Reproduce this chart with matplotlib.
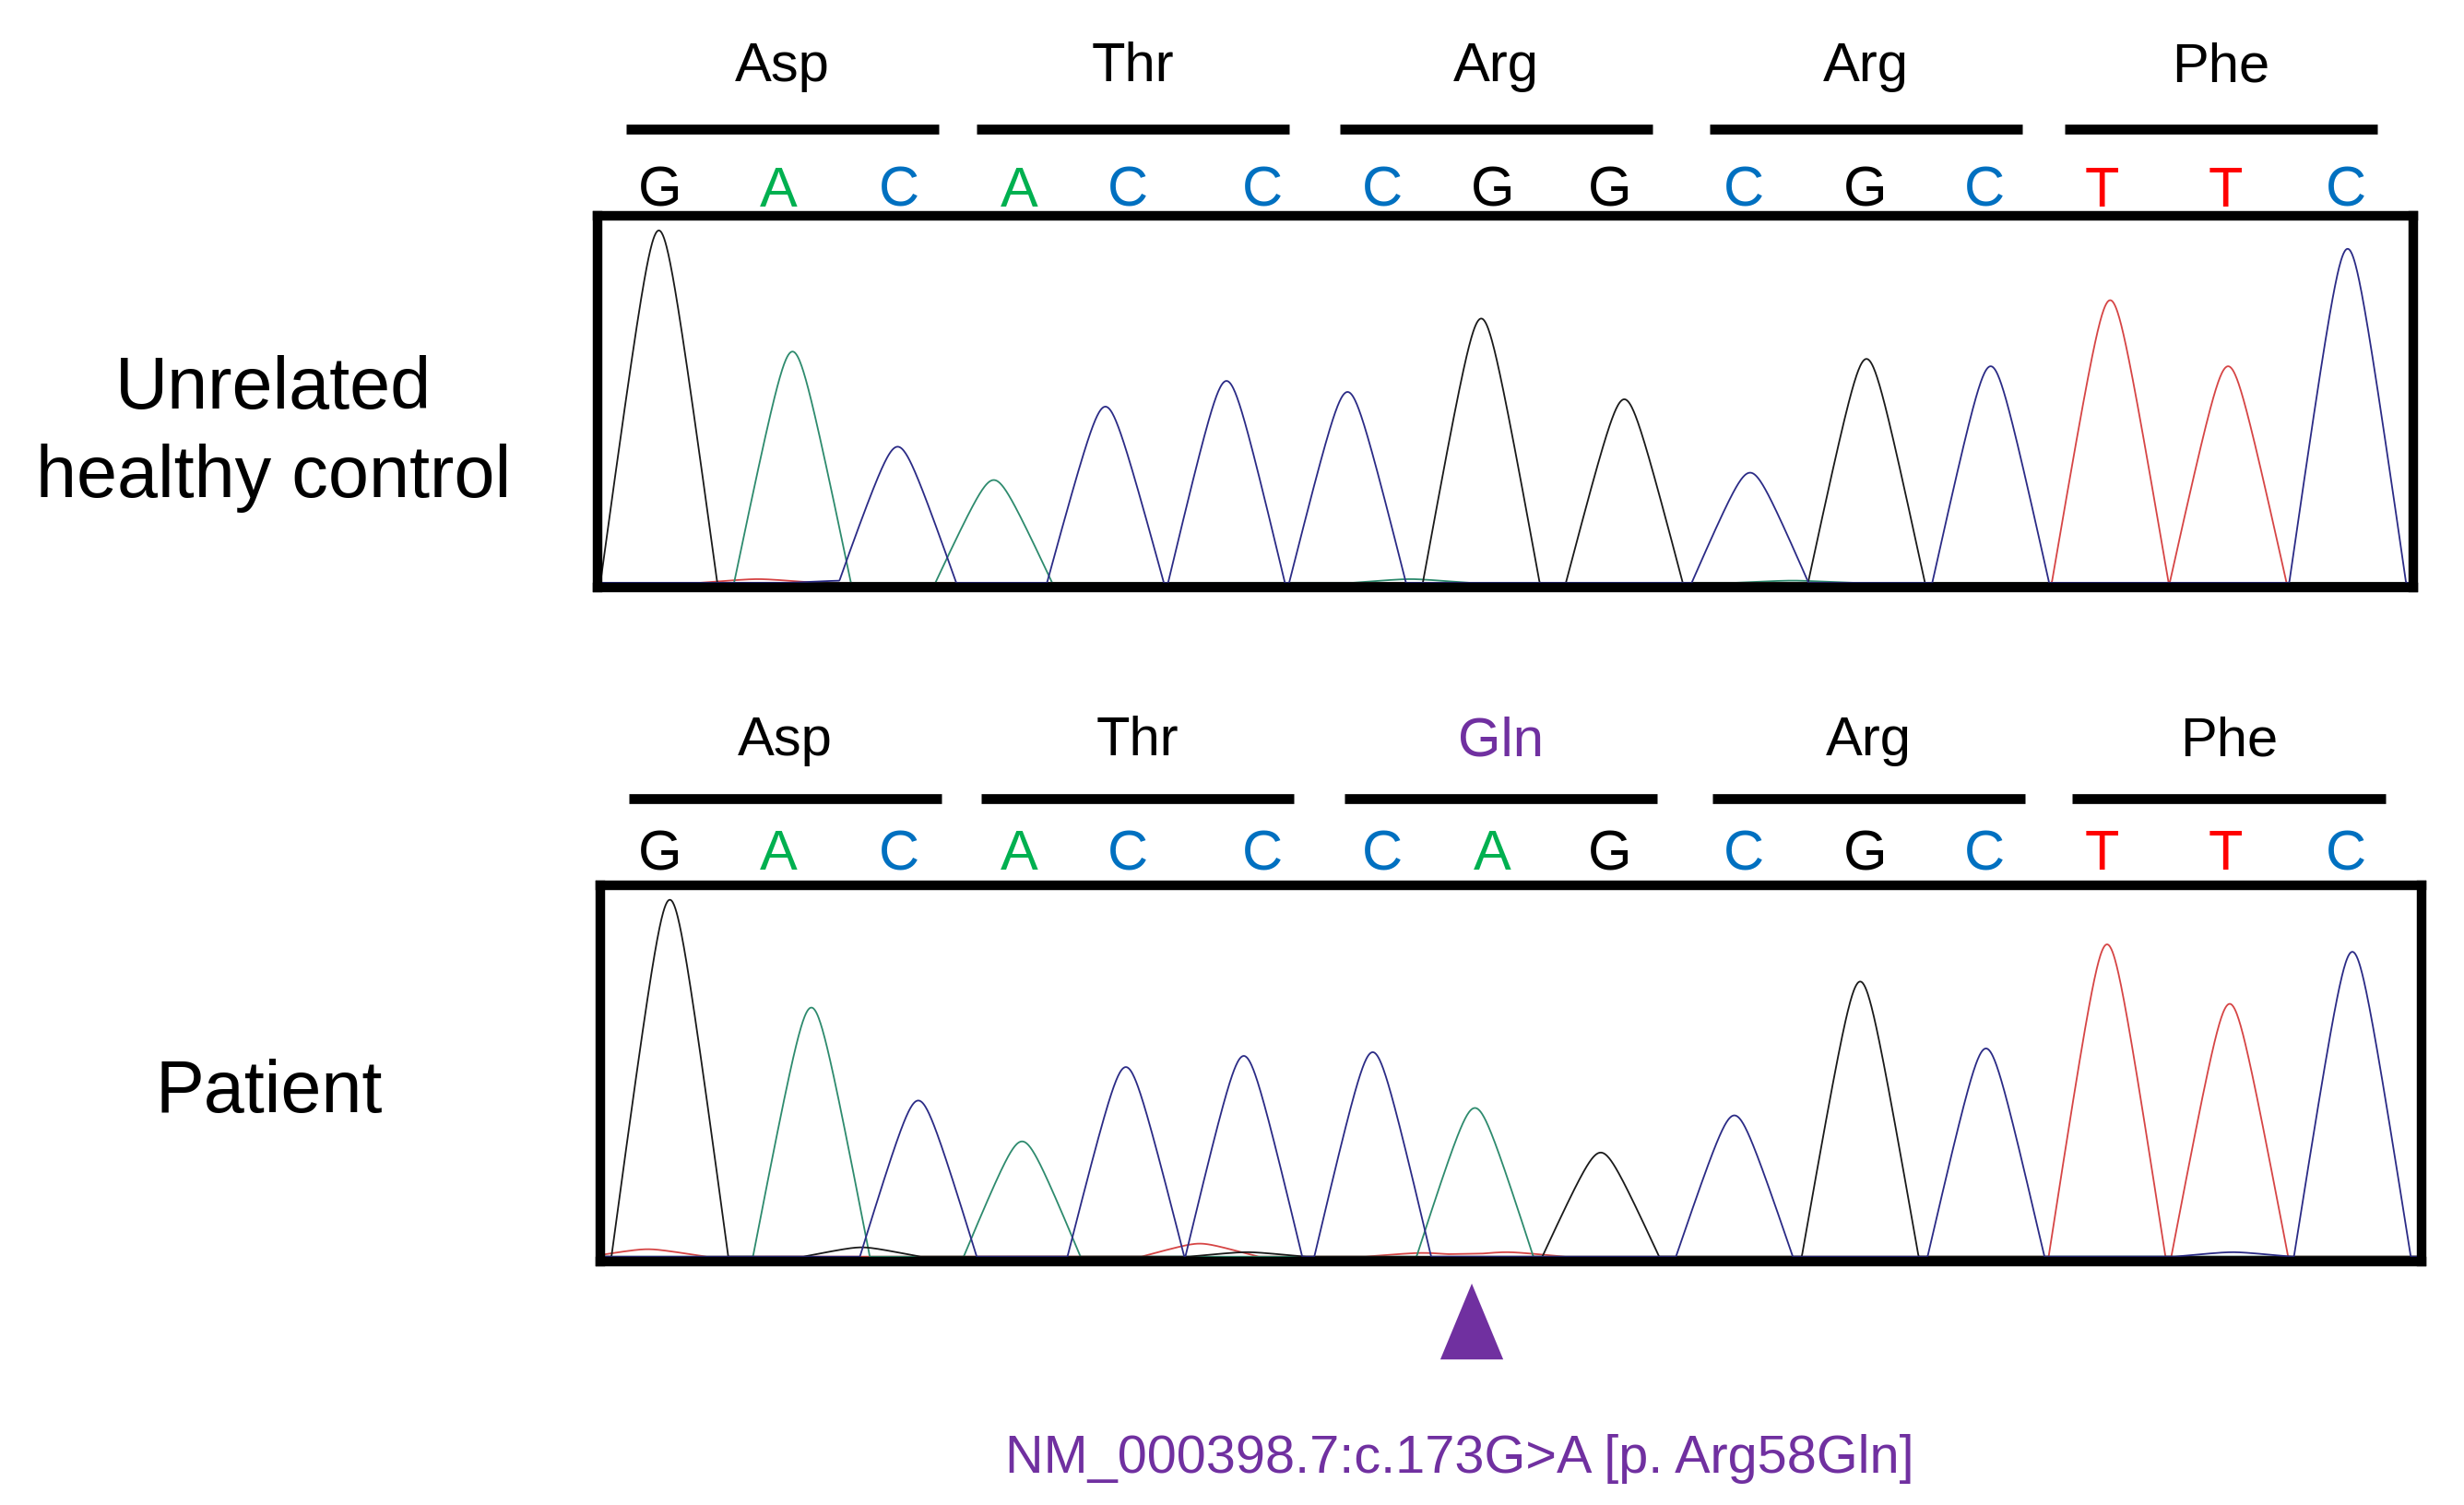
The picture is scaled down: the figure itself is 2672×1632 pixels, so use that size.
import numpy as np
import matplotlib
matplotlib.use("Agg")
import matplotlib.pyplot as plt

plt.rcParams['font.family'] = ['Liberation Sans', 'DejaVu Sans']

# layout frame (units roughly matching the reference picture)
W, H = 1567, 952

# --- data -------------------------------------------------------------
base_x = [420, 495, 572, 648, 717, 803, 879, 949, 1024, 1109, 1186, 1262, 1337, 1415, 1492]
control_bases = list("GACACCCGGCGCTTC")
patient_bases = list("GACACCCAGCGCTTC")

control_aa = ["Asp", "Thr", "Arg", "Arg", "Phe"]
patient_aa = ["Asp", "Thr", "Gln", "Arg", "Phe"]
control_aa_start = [398, 621, 852, 1087, 1313]
patient_aa_start = [400, 624, 855, 1089, 1318]

# chromatogram peaks: base call, position, relative height
control_peak_base = list("GACACCCGGCGCTTC")
control_peak_pos = [419, 504, 571, 632, 703, 780, 857, 942, 1033, 1113, 1187, 1266, 1342, 1417, 1493]
control_peak_h = [0.96, 0.63, 0.37, 0.28, 0.48, 0.55, 0.52, 0.72, 0.50, 0.30, 0.61, 0.59, 0.77, 0.59, 0.91]
control_noise_base = list("TCAA")
control_noise_pos = [482, 538, 897, 1140]
control_noise_h = [0.010, 0.006, 0.010, 0.006]

patient_peak_base = list("GACACCCAGCGCTTC")
patient_peak_pos = [426, 516, 584, 650, 716, 791, 873, 938, 1018, 1103, 1183, 1263, 1340, 1418, 1496]
patient_peak_h = [0.96, 0.67, 0.42, 0.31, 0.51, 0.54, 0.55, 0.40, 0.28, 0.38, 0.74, 0.56, 0.84, 0.68, 0.82]
patient_noise_base = list("TGTGTTC")
patient_noise_pos = [412, 548, 763, 793, 905, 958, 1420]
patient_noise_h = [0.02, 0.025, 0.035, 0.012, 0.010, 0.012, 0.012]

mutation_text = "NM_000398.7:c.173G>A [p. Arg58Gln]"
mutation_pos = 936

# --- styles -----------------------------------------------------------
letter_colors = {"G": "black", "A": "#00B050", "C": "#0070C0", "T": "#FF0000"}
trace_colors = {"G": "#1a1a1a", "A": "#2e8b6e", "C": "#2b2b86", "T": "#d64545"}
purple = "#7030A0"
half_w = 38.0   # half width of a peak at the baseline
tip_r = 8.0     # rounding of the peak tip

fig = plt.figure(figsize=(26.72, 16.33), dpi=100)
ax0 = fig.add_axes([0, 0, 1, 1])
ax0.set_xlim(0, W)
ax0.set_ylim(H, 0)
ax0.axis("off")


def peak_shape(x, p, h):
    # tent-like peak with a rounded tip
    d = np.sqrt((x - p) ** 2 + tip_r ** 2)
    return h * np.clip((half_w - d) / (half_w - tip_r), 0, None)


def panel(box, peak_base, peak_pos, peak_h, noise_base, noise_pos, noise_h):
    l, r, t, b, base = box
    ax = fig.add_axes([l / W, 1 - b / H, (r - l) / W, (b - t) / H])
    ax.set_xlim(l, r)
    ax.set_ylim(-(b - base) / (base - t), 1.0)
    ax.set_facecolor("none")
    x = np.linspace(l, r, 3000)
    for ch in "TAGC":
        y = np.zeros_like(x)
        for c, p, h in zip(peak_base + noise_base, peak_pos + noise_pos, peak_h + noise_h):
            if c == ch:
                y += peak_shape(x, p, h)
        ax.plot(x, y, color=trace_colors[ch], lw=1.3, zorder=2)
    ax.set_xticks([])
    ax.set_yticks([])
    for s in ax.spines.values():
        s.set_linewidth(7.5)
        s.set_color("black")
        s.set_zorder(3)
    return ax


panel((380, 1535, 137, 372, 369), control_peak_base, control_peak_pos, control_peak_h,
      control_noise_base, control_noise_pos, control_noise_h)
panel((382, 1540, 560, 798, 795), patient_peak_base, patient_peak_pos, patient_peak_h,
      patient_noise_base, patient_noise_pos, patient_noise_h)


def header(aa, aa_start, bases, aa_y, bar_y, base_y, highlight=None):
    for i, (name, s) in enumerate(zip(aa, aa_start)):
        col = purple if i == highlight else "black"
        ax0.text(s + 99.5, aa_y, name, ha="center", va="baseline", fontsize=43, color=col)
        ax0.plot([s, s + 199], [bar_y, bar_y], color="black", lw=7.7, solid_capstyle="butt")
    for b, xx in zip(bases, base_x):
        ax0.text(xx, base_y, b, ha="center", va="baseline", fontsize=44, color=letter_colors[b])


header(control_aa, control_aa_start, control_bases, 51.5, 82, 130.5)
header(patient_aa, patient_aa_start, patient_bases, 477.5, 505.5, 550, highlight=2)

ax0.text(174, 258, "Unrelated", ha="center", va="baseline", fontsize=57)
ax0.text(174, 314, "healthy control", ha="center", va="baseline", fontsize=57)
ax0.text(171, 703, "Patient", ha="center", va="baseline", fontsize=57)

ax0.fill([mutation_pos - 20, mutation_pos, mutation_pos + 20],
         [860, 812, 860], color=purple, lw=0)
ax0.text(928, 931, mutation_text, ha="center", va="baseline", fontsize=41.5, color=purple)

fig.savefig("out.png", dpi=100)
